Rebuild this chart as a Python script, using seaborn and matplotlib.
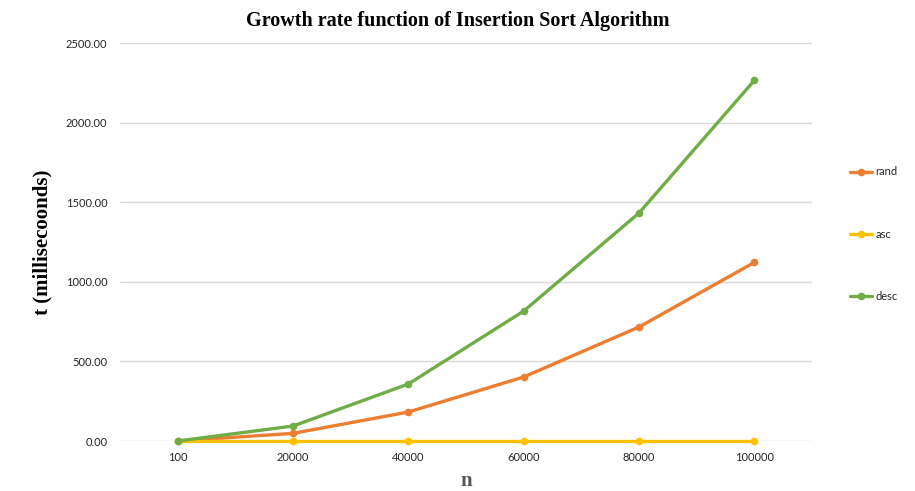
import matplotlib
matplotlib.use('Agg')
import matplotlib.pyplot as plt
import pandas as pd
import seaborn as sns

# Values (time in milliseconds).
n_labels = ['100', '20000', '40000', '60000', '80000', '100000']
rand_t = [0, 48, 182, 402, 716, 1122]
asc_t = [0, 0, 0, 0, 0, 0]
desc_t = [0, 94, 358, 816, 1432, 2265]
y_ticks = [0, 500, 1000, 1500, 2000, 2500]

df = pd.DataFrame({
    'n': n_labels * 3,
    't': rand_t + asc_t + desc_t,
    'series': ['rand'] * 6 + ['asc'] * 6 + ['desc'] * 6,
})

sns.set_theme(style='white')
plt.rcParams['font.family'] = ['Lato', 'DejaVu Sans']

color_map = {'rand': '#ED7D31', 'asc': '#FFC000', 'desc': '#70AD47'}

fig = plt.figure(figsize=(9.15, 4.91), dpi=100)
ax = fig.add_axes([120 / 915, 1 - 441 / 491, 692 / 915, 398 / 491])

sns.lineplot(data=df, x='n', y='t', hue='series', palette=color_map,
             hue_order=['rand', 'asc', 'desc'], marker='o', markersize=5.5,
             markeredgewidth=0, linewidth=2.4, ax=ax, legend=False)
for line in ax.get_lines():
    line.set_clip_on(False)
    line.set_zorder(3)

ax.set_xlim(-0.5, 5.5)
ax.set_ylim(0, 2500)
ax.set_yticks(y_ticks)
ax.set_yticklabels(['%.2f' % v for v in y_ticks], fontsize=8, color='#262626')
ax.tick_params(axis='x', labelsize=8, labelcolor='#262626', pad=8, length=0)
ax.tick_params(axis='y', pad=9, length=0)
ax.yaxis.grid(True, color='#D9D9D9', linewidth=1)
ax.set_axisbelow(True)
for s in ax.spines.values():
    s.set_visible(False)

ax.set_xlabel('n', family='Liberation Serif', fontweight='bold', fontsize=15,
              color='#595959', labelpad=6)
ax.set_ylabel('t (millisecoonds)', family='Liberation Serif', fontweight='bold',
              fontsize=15, color='black', labelpad=10)
fig.text(0.5, 0.958, 'Growth rate function of Insertion Sort Algorithm',
         family='Liberation Serif', fontweight='bold', fontsize=14.5,
         color='black', ha='center', va='center')

handles = [plt.Line2D([], [], color=color_map[k], marker='o', markersize=5.5,
                      markeredgewidth=0, linewidth=2.4) for k in ['rand', 'asc', 'desc']]
fig.legend(handles, ['rand', 'asc', 'desc'], loc='center left',
           bbox_to_anchor=(840 / 915, 1 - 234 / 491), frameon=False,
           fontsize=8, labelspacing=4.6, handlelength=2.0, handletextpad=0.3)

fig.savefig('out.png', dpi=100)
